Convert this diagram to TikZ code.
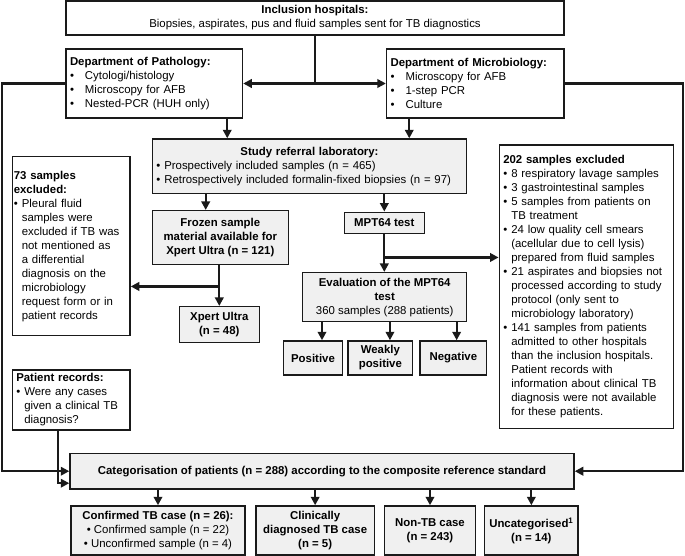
\documentclass[tikz,border=0pt]{standalone}
\usepackage{fontspec}
\setmainfont{Liberation Sans}
\usetikzlibrary{arrows.meta}

\definecolor{boxfill}{HTML}{F0F0F0}
\definecolor{ink}{HTML}{1A1A1A}

\newcommand{\bul}[1][8pt]{\makebox[#1][l]{\textbullet}}  % bullet + gap
\newcommand{\ind}[1][8pt]{\hspace*{#1}}                   % hanging indent

\tikzset{
  flowbox/.style={draw=ink, line width=1.5pt, inner xsep=4pt, inner ysep=0pt,
    font=\fontsize{11.4}{14}\selectfont},
  whitebox/.style={flowbox, fill=white, align=left},
  greybox/.style={flowbox, fill=boxfill, align=center,
    font=\fontsize{11.4}{14}\selectfont\bfseries},
  link/.style={draw=ink, line width=2.2pt},
}

\begin{document}
\begin{tikzpicture}[x=1pt,y=-1pt,>={Triangle[length=8.5pt,width=8.5pt]}]
  \useasboundingbox (0,0) rectangle (685,556);

  % top part
  \node[whitebox, align=center, minimum width=498pt, minimum height=34pt] (incl) at (315,18)
    {\textbf{Inclusion hospitals:}\\Biopsies, aspirates, pus and fluid samples sent for TB diagnostics};

  \node[whitebox, text width=168.5pt, minimum width=176.5pt, minimum height=69pt] (path) at (154.25,83.5)
    {\textbf{Department of Pathology:}\\
     \bul[15pt]Cytologi/histology\\
     \bul[15pt]Microscopy for AFB\\
     \bul[15pt]Nested-PCR (HUH only)};

  \node[whitebox, text width=169.4pt, minimum width=177.4pt, minimum height=69pt] (micro) at (475.3,83.5)
    {\textbf{Department of Microbiology:}\\
     \bul[15pt]Microscopy for AFB\\
     \bul[15pt]1-step PCR\\
     \bul[15pt]Culture};

  \node[greybox, align=left, font=\fontsize{11.4}{14}\selectfont, text width=306.4pt,
        minimum width=314.4pt, minimum height=54.3pt] (study) at (309.5,166.2)
    {\makebox[\linewidth][c]{\textbf{Study referral laboratory:}}\\
     \bul Prospectively included samples (n = 465)\\
     \bul Retrospectively included formalin-fixed biopsies (n = 97)};

  % middle part
  \node[greybox, minimum width=136pt, minimum height=53.6pt] (frozen) at (220.3,237.5)
    {Frozen sample\\material available for\\Xpert Ultra (n = 121)};
  \node[greybox, minimum width=80pt, minimum height=21pt] (mpt) at (384.3,222.8) {MPT64 test};
  \node[greybox, minimum width=164pt, minimum height=49pt] (eval) at (384.7,297.2)
    {Evaluation of the MPT64\\test\\{\mdseries 360 samples (288 patients)}};
  \node[greybox, minimum width=80pt, minimum height=35.6pt] (xpert) at (219.3,324.5)
    {Xpert Ultra\\(n = 48)};

  \node[greybox, minimum width=59.4pt, minimum height=34pt] (pos)  at (313,358)    {Positive};
  \node[greybox, minimum width=64.7pt, minimum height=34pt] (weak) at (380.35,358) {Weakly\\positive};
  \node[greybox, minimum width=66.7pt, minimum height=34pt] (neg)  at (453.35,358) {Negative};

  \node[whitebox, inner xsep=1.5pt, text width=114.7pt, minimum width=117.7pt, minimum height=179pt] (excl73) at (71.15,246.2)
    {\textbf{73 samples}\\
     \textbf{excluded:}\\
     \bul Pleural fluid\\
     \ind samples were\\
     \ind excluded if TB was\\
     \ind not mentioned as\\
     \ind a differential\\
     \ind diagnosis on the\\
     \ind microbiology\\
     \ind request form or in\\
     \ind patient records};

  \node[whitebox, text width=166pt, minimum width=174pt, minimum height=283.3pt] (excl202) at (586.3,286.65)
    {\textbf{202 samples excluded}\\
     \bul 8 respiratory lavage samples\\
     \bul 3 gastrointestinal samples\\
     \bul 5 samples from patients on\\
     \ind TB treatment\\
     \bul 24 low quality cell smears\\
     \ind (acellular due to cell lysis)\\
     \ind prepared from fluid samples\\
     \bul 21 aspirates and biopsies not\\
     \ind processed according to study\\
     \ind protocol (only sent to\\
     \ind microbiology laboratory)\\
     \bul 141 samples from patients\\
     \ind admitted to other hospitals\\
     \ind than the inclusion hospitals.\\
     \ind Patient records with\\
     \ind information about clinical TB\\
     \ind diagnosis were not available\\
     \ind for these patients.};

  \node[whitebox, text width=109.7pt, minimum width=117.7pt, minimum height=60pt] (records) at (71.15,400)
    {\textbf{Patient records:}\\
     \bul Were any cases\\
     \ind given a clinical TB\\
     \ind diagnosis?};

  % bottom part
  \node[greybox, minimum width=504pt, minimum height=35.7pt] (cat) at (322,471.2)
    {Categorisation of patients (n = 288) according to the composite reference standard};

  \node[greybox, minimum width=174pt, minimum height=49pt] (conf) at (158,530.5)
    {Confirmed TB case (n = 26):\\
     {\mdseries\textbullet\ Confirmed sample (n = 22)}\\
     {\mdseries\textbullet\ Unconfirmed sample (n = 4)}};
  \node[greybox, minimum width=118.3pt, minimum height=49pt] (clin) at (315.15,530.5)
    {Clinically\\diagnosed TB case\\(n = 5)};
  \node[greybox, minimum width=90.6pt, minimum height=49pt] (nontb) at (430,530.5)
    {Non-TB case\\(n = 243)};
  \node[greybox, minimum width=93.3pt, minimum height=49pt] (uncat) at (531.35,530.5)
    {Uncategorised\textsuperscript{1}\\(n = 14)};

  % connectors
  \coordinate (inclsplit) at (incl.south |- path.east);
  \draw[link] (incl.south) -- (inclsplit);
  \draw[link,->] (inclsplit) -- (path.east);
  \draw[link,->] (inclsplit) -- (micro.west);

  \coordinate (pathout) at ([xshift=-16pt]path.south east);
  \coordinate (microout) at ([xshift=23.4pt]micro.south west);
  \draw[link,->] (pathout) -- (pathout |- study.north);
  \draw[link,->] (microout) -- (microout |- study.north);

  \coordinate (frozenin) at ([xshift=-14.6pt]frozen.north);
  \draw[link,->] (frozenin |- study.south) -- (frozenin);
  \draw[link,->] (mpt.north |- study.south) -- (mpt.north);

  \draw[link,->] (mpt.south) -- (mpt.south |- eval.north);
  \coordinate (mptsplit) at ([yshift=-23.4pt]mpt.south);
  \draw[link,->] (mptsplit) -- (mptsplit -| excl202.west);

  \coordinate (frozenout) at (xpert.north |- frozen.south);
  \draw[link,->] (frozenout) -- (xpert.north);
  \coordinate (frozensplit) at ([yshift=-21.4pt]frozenout);
  \draw[link,->] (frozensplit) -- (frozensplit -| excl73.east);

  \coordinate (posin)  at ([xshift=9pt]pos.north);
  \coordinate (weakin) at ([xshift=9.6pt]weak.north);
  \coordinate (negin)  at ([xshift=3.3pt]neg.north);
  \draw[link,->] (posin |- eval.south) -- (posin);
  \draw[link,->] (weakin |- eval.south) -- (weakin);
  \draw[link,->] (negin |- eval.south) -- (negin);

  \coordinate (leftrail) at (2,0);
  \coordinate (rightrail) at (683,0);
  \draw[link,->] (path.west) -- (leftrail |- path.west) -- (leftrail |- cat.west) -- (cat.west);
  \draw[link,->] (micro.east) -- (rightrail |- micro.east) -- (rightrail |- cat.east) -- (cat.east);

  \coordinate (recout) at ([xshift=-12.85pt]records.south);
  \coordinate (catlow) at ([yshift=-12pt]cat.west);
  \draw[link,->] (recout) |- (catlow);

  \draw[link,->] (cat.south -| conf.north) -- (conf.north);
  \draw[link,->] (cat.south -| clin.north) -- (clin.north);
  \draw[link,->] (cat.south -| nontb.north) -- (nontb.north);
  \draw[link,->] (cat.south -| uncat.north) -- (uncat.north);
\end{tikzpicture}
\end{document}
